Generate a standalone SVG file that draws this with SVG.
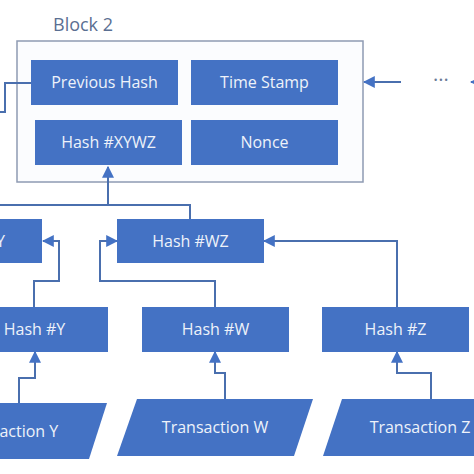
<svg xmlns="http://www.w3.org/2000/svg" width="474" height="474" viewBox="0 0 474 474">
<defs>
<style>
.box{fill:#4472c4;}
.t{fill:#eef2fa;font-family:"Open Sans","Noto Sans",sans-serif;font-size:16px;text-anchor:middle;}
.ln{fill:none;stroke:#4a6fae;stroke-width:2;}
.title{fill:#5a6f92;font-family:"Open Sans","Noto Sans",sans-serif;font-size:18px;}
</style>
<marker id="ah" viewBox="0 0 10 10" refX="9" refY="5" markerWidth="6" markerHeight="6" orient="auto" markerUnits="strokeWidth">
<path d="M0,0 L10,5 L0,10 z" fill="#4472c4"/>
</marker>
</defs>
<rect width="474" height="474" fill="#ffffff"/>
<g id="block2">
<text class="title" x="53" y="31">Block 2</text>
<rect x="17" y="41" width="346" height="141" fill="#fbfcfe" stroke="#8e9bb3" stroke-width="1.5"/>
</g>
<g id="prevhash"><rect class="box" x="31" y="60" width="147" height="45"/><text class="t" x="104.5" y="88">Previous Hash</text></g>
<g id="timestamp"><rect class="box" x="191" y="60" width="147" height="45"/><text class="t" x="264.5" y="88">Time Stamp</text></g>
<g id="hashxywz"><rect class="box" x="35" y="120" width="147" height="45"/><text class="t" x="108.5" y="148">Hash #XYWZ</text></g>
<g id="nonce"><rect class="box" x="191" y="120" width="147" height="45"/><text class="t" x="264.5" y="148">Nonce</text></g>
<g id="hashxy"><rect class="box" x="-105" y="219" width="147" height="44"/><text class="t" x="-30.5" y="246.5">Hash #XY</text></g>
<g id="hashwz"><rect class="box" x="117" y="219" width="147" height="44"/><text class="t" x="190.5" y="246.5">Hash #WZ</text></g>
<g id="hashy"><rect class="box" x="-39" y="307" width="147" height="45"/><text class="t" x="34.5" y="335">Hash #Y</text></g>
<g id="hashw"><rect class="box" x="142" y="307" width="147" height="45"/><text class="t" x="215.5" y="335">Hash #W</text></g>
<g id="hashz"><rect class="box" x="322" y="307" width="147" height="45"/><text class="t" x="395.5" y="335">Hash #Z</text></g>
<g id="txy"><polygon class="box" points="-69,403 107,403 89,459 -87,459"/><text class="t" x="8" y="437">Transaction Y</text></g>
<g id="txw"><polygon class="box" points="137,399 313,399 294,456 117,456"/><text class="t" x="215" y="433">Transaction W</text></g>
<g id="txz"><polygon class="box" points="342,399 518,399 499,456 323,456"/><text class="t" x="420" y="433">Transaction Z</text></g>
<g id="dots"><text x="441" y="87" fill="#6a7a96" font-family="'Open Sans','Noto Sans',sans-serif" font-size="20" text-anchor="middle">···</text></g>
<g id="connectors">
<path class="ln" d="M31,83 H5 V112 H0"/>
<path class="ln" d="M401,82 H364" marker-end="url(#ah)"/>
<path class="ln" d="M480,82 H471" marker-end="url(#ah)"/>
<path class="ln" d="M0,205 H108 V167" marker-end="url(#ah)"/>
<path class="ln" d="M108,205 H190 V219"/>
<path class="ln" d="M34,307 V281 H59 V241 H43" marker-end="url(#ah)"/>
<path class="ln" d="M215,307 V281 H100 V241 H117" marker-end="url(#ah)"/>
<path class="ln" d="M397,307 V241 H264" marker-end="url(#ah)"/>
<path class="ln" d="M19,403 V378 H35 V352" marker-end="url(#ah)"/>
<path class="ln" d="M225,399 V373 H215 V352" marker-end="url(#ah)"/>
<path class="ln" d="M431,399 V373 H397 V352" marker-end="url(#ah)"/>
</g>
</svg>
